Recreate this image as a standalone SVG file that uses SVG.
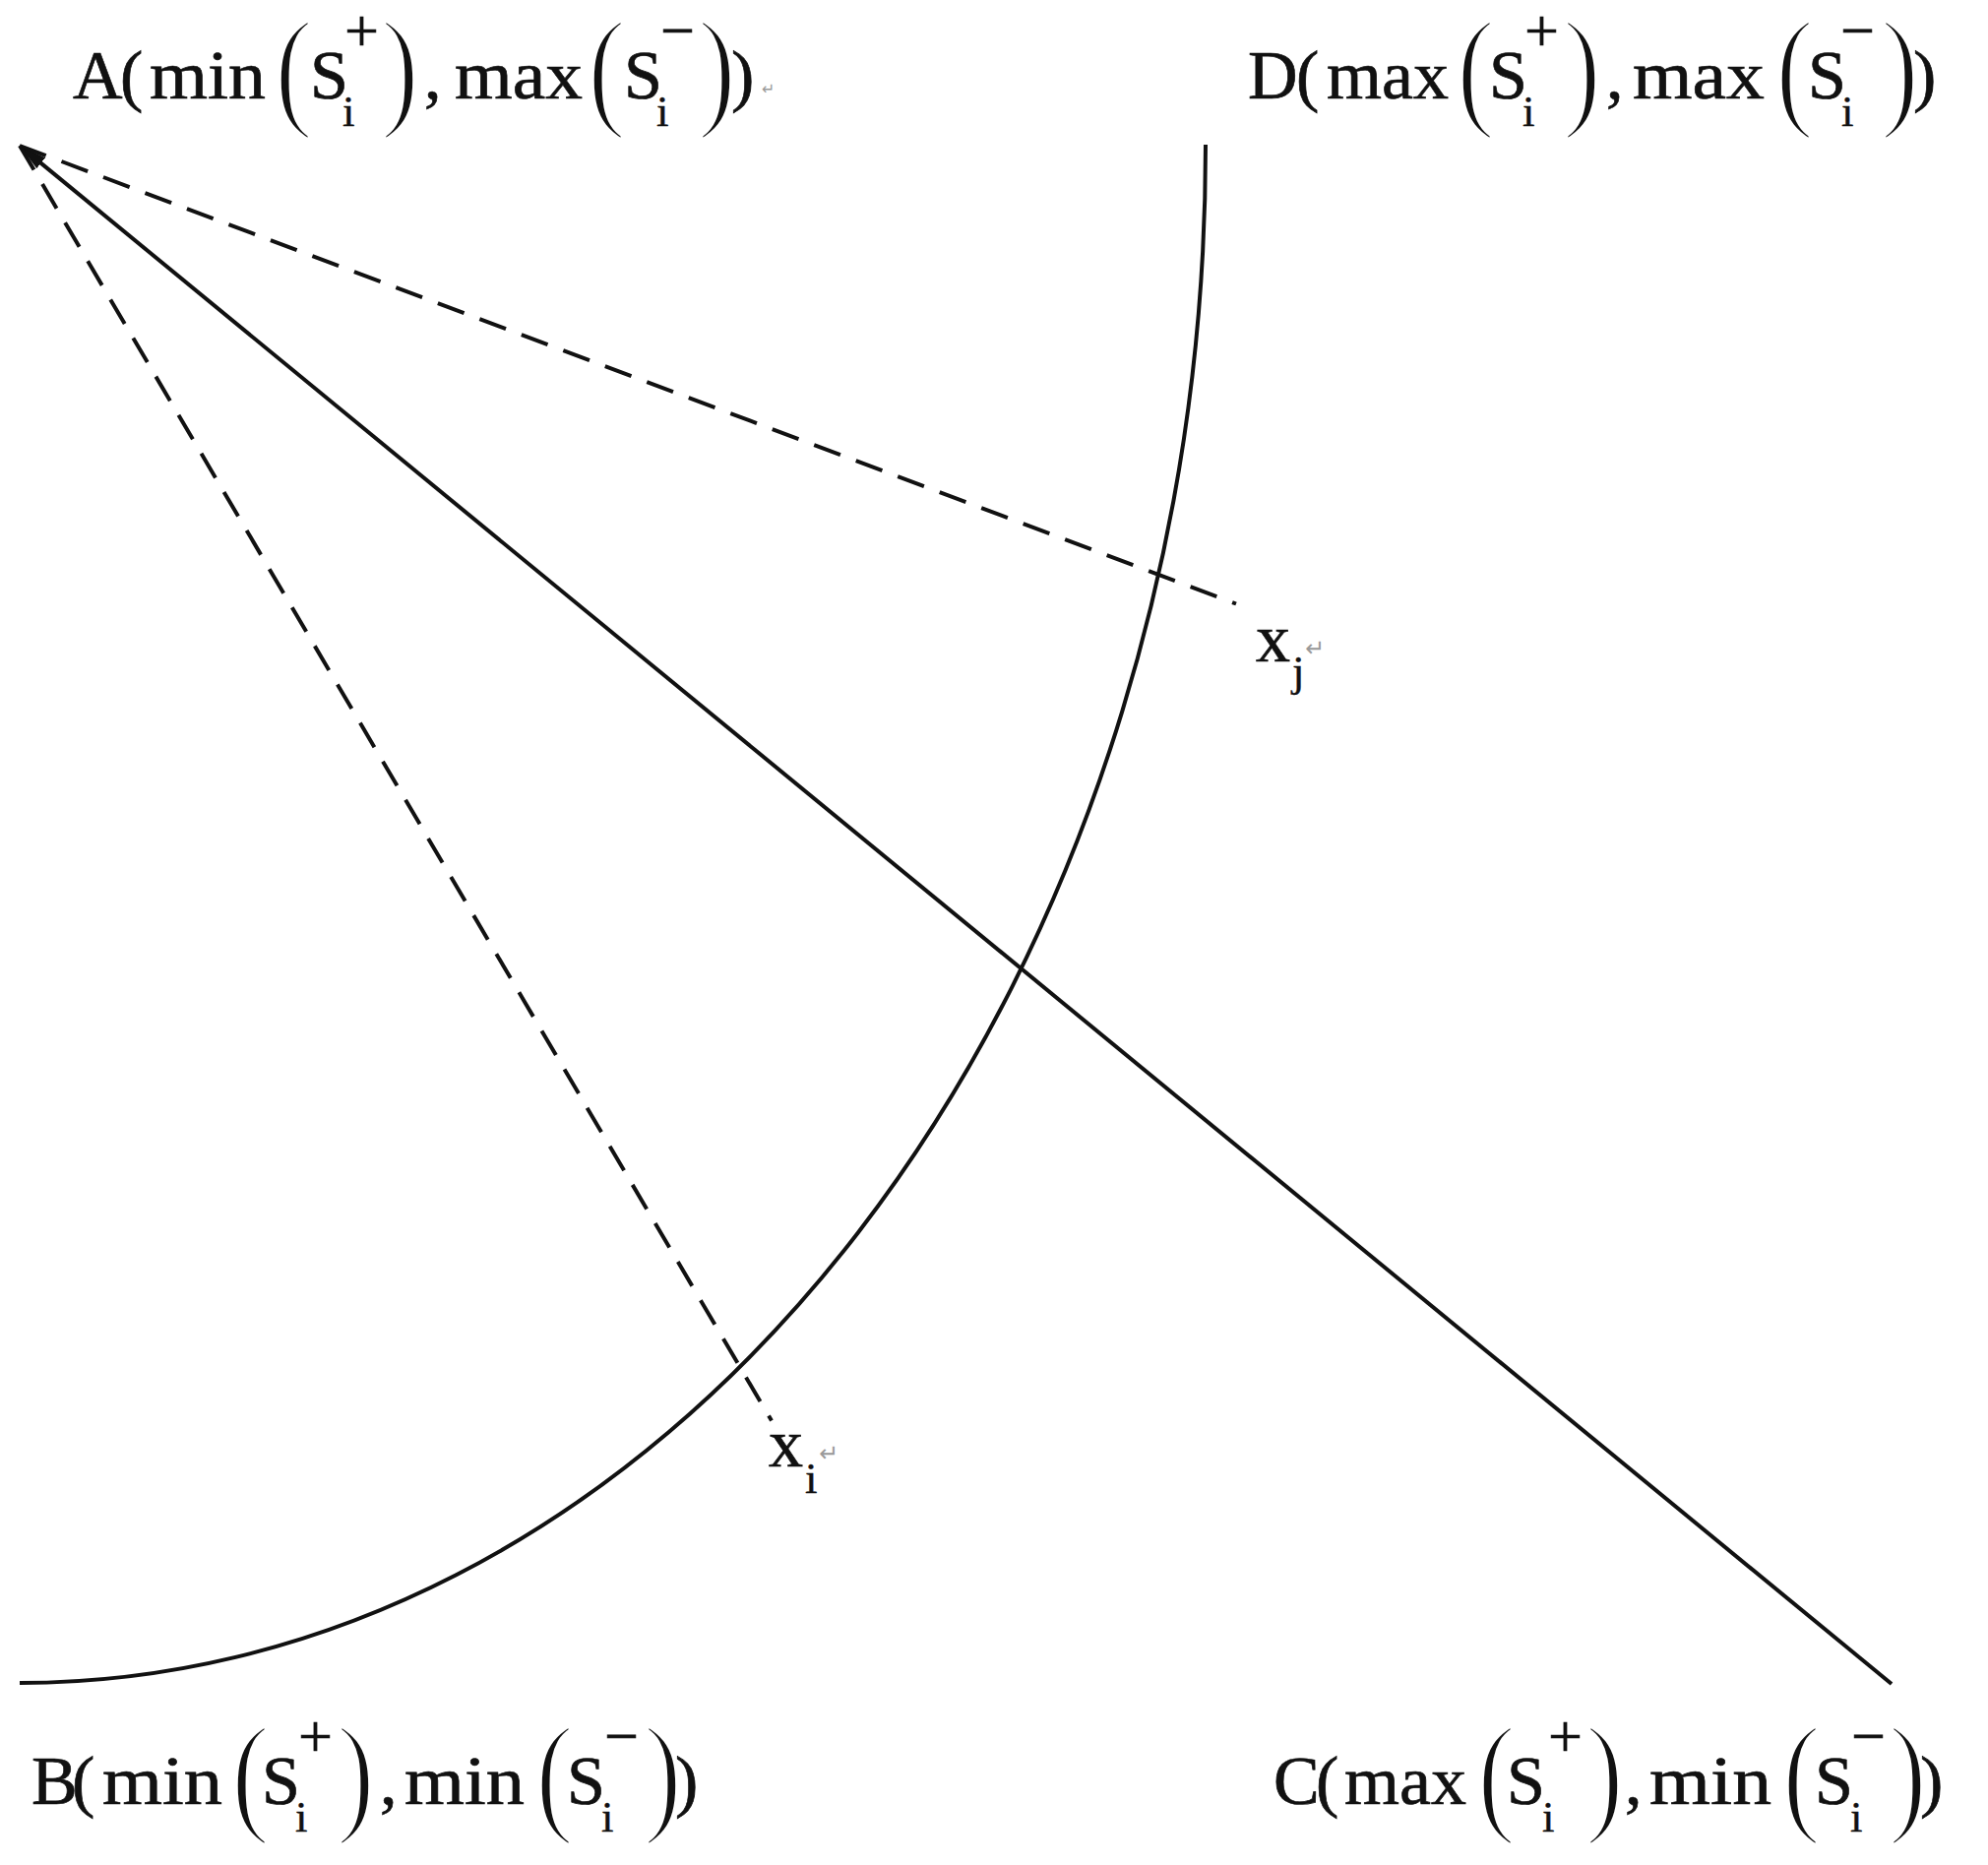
<svg xmlns="http://www.w3.org/2000/svg" width="2020" height="1895" viewBox="0 0 2020 1895">
<style>
.t{font-family:"Liberation Serif","Times New Roman",serif;fill:#111}
.n{font-size:70px;stroke:#111;stroke-width:0.7}
.bp{font-size:117px;stroke:#fff;stroke-width:3.2}
.sub{font-size:45px;stroke:#111;stroke-width:0.4}
.sup{font-size:62px;stroke:#111;stroke-width:0.6}
.mk{font-family:"DejaVu Sans",sans-serif;fill:#9a9a9a}
.ln{fill:none;stroke:#111;stroke-width:4}
.dash{stroke-dasharray:28.5 16.9}
</style>
<defs>
<marker id="arr" viewBox="0 0 28 14" refX="16" refY="7" markerWidth="28" markerHeight="14" markerUnits="userSpaceOnUse" orient="auto">
<path d="M0,0 L28,7 L0,14 z" fill="#111"/>
</marker>
</defs>
<rect width="2020" height="1895" fill="#fff"/>
<g id="connectors">
<path class="ln" d="M1225,147 A1205,1563 0 0 1 20,1710"/>
<line class="ln" x1="1922" y1="1711" x2="29.3" y2="155.6" marker-end="url(#arr)"/>
<line class="ln dash" x1="20" y1="148" x2="1256" y2="613.5"/>
<line class="ln dash" x1="20" y1="148" x2="784" y2="1443.5"/>
</g>
<g id="nodeA">
<text class="t n" x="74" y="100">A</text>
<text class="t n" x="122" y="100">(</text>
<text class="t n" x="152" y="100" textLength="118" lengthAdjust="spacingAndGlyphs">min</text>
<text class="t bp" transform="translate(279,114) scale(1,1.15)">(</text>
<text class="t n" x="315" y="100">S</text>
<text class="t sup" x="350" y="52">+</text>
<text class="t sub" x="348" y="128">i</text>
<text class="t bp" transform="translate(387,114) scale(1,1.15)">)</text>
<text class="t n" x="431" y="100">,</text>
<text class="t n" x="462" y="100" textLength="130" lengthAdjust="spacingAndGlyphs">max</text>
<text class="t bp" transform="translate(597,114) scale(1,1.15)">(</text>
<text class="t n" x="634" y="100">S</text>
<text class="t sup" x="671" y="52">−</text>
<text class="t sub" x="667" y="128">i</text>
<text class="t bp" transform="translate(709,114) scale(1,1.15)">)</text>
<text class="t n" x="743" y="100">)</text>
<text class="mk" x="774" y="96" font-size="16">↵</text>
</g>
<g id="nodeD">
<text class="t n" x="1268" y="100">D</text>
<text class="t n" x="1317" y="100">(</text>
<text class="t n" x="1348" y="100" textLength="124" lengthAdjust="spacingAndGlyphs">max</text>
<text class="t bp" transform="translate(1480,114) scale(1,1.15)">(</text>
<text class="t n" x="1513" y="100">S</text>
<text class="t sup" x="1549" y="52">+</text>
<text class="t sub" x="1547" y="128">i</text>
<text class="t bp" transform="translate(1588,114) scale(1,1.15)">)</text>
<text class="t n" x="1632" y="100">,</text>
<text class="t n" x="1659" y="100" textLength="134" lengthAdjust="spacingAndGlyphs">max</text>
<text class="t bp" transform="translate(1804,114) scale(1,1.15)">(</text>
<text class="t n" x="1837" y="100">S</text>
<text class="t sup" x="1870" y="52">−</text>
<text class="t sub" x="1871" y="128">i</text>
<text class="t bp" transform="translate(1911,114) scale(1,1.15)">)</text>
<text class="t n" x="1944" y="100">)</text>
</g>
<g id="nodeB">
<text class="t n" x="32" y="1833">B</text>
<text class="t n" x="73" y="1833">(</text>
<text class="t n" x="104" y="1833" textLength="122" lengthAdjust="spacingAndGlyphs">min</text>
<text class="t bp" transform="translate(235,1847) scale(1,1.15)">(</text>
<text class="t n" x="266" y="1833">S</text>
<text class="t sup" x="303" y="1785">+</text>
<text class="t sub" x="300" y="1861">i</text>
<text class="t bp" transform="translate(342,1847) scale(1,1.15)">)</text>
<text class="t n" x="386" y="1833">,</text>
<text class="t n" x="411" y="1833" textLength="122" lengthAdjust="spacingAndGlyphs">min</text>
<text class="t bp" transform="translate(544,1847) scale(1,1.15)">(</text>
<text class="t n" x="576" y="1833">S</text>
<text class="t sup" x="614" y="1785">−</text>
<text class="t sub" x="611" y="1861">i</text>
<text class="t bp" transform="translate(654,1847) scale(1,1.15)">)</text>
<text class="t n" x="686" y="1833">)</text>
</g>
<g id="nodeC">
<text class="t n" x="1294" y="1833">C</text>
<text class="t n" x="1337" y="1833">(</text>
<text class="t n" x="1366" y="1833" textLength="124" lengthAdjust="spacingAndGlyphs">max</text>
<text class="t bp" transform="translate(1501,1847) scale(1,1.15)">(</text>
<text class="t n" x="1531" y="1833">S</text>
<text class="t sup" x="1573" y="1785">+</text>
<text class="t sub" x="1567" y="1861">i</text>
<text class="t bp" transform="translate(1611,1847) scale(1,1.15)">)</text>
<text class="t n" x="1651" y="1833">,</text>
<text class="t n" x="1676" y="1833" textLength="124" lengthAdjust="spacingAndGlyphs">min</text>
<text class="t bp" transform="translate(1811,1847) scale(1,1.15)">(</text>
<text class="t n" x="1844" y="1833">S</text>
<text class="t sup" x="1881" y="1785">−</text>
<text class="t sub" x="1880" y="1861">i</text>
<text class="t bp" transform="translate(1919,1847) scale(1,1.15)">)</text>
<text class="t n" x="1951" y="1833">)</text>
</g>
<g id="nodeXj">
<text class="t n" x="1276" y="672" font-size="72">x</text>
<text class="t sub" x="1313" y="697">j</text>
<text class="mk" x="1326" y="667" font-size="24">↵</text>
</g>
<g id="nodeXi">
<text class="t n" x="781" y="1490" font-size="72">x</text>
<text class="t sub" x="818" y="1517" font-size="46">i</text>
<text class="mk" x="832" y="1485" font-size="24">↵</text>
</g>
</svg>
